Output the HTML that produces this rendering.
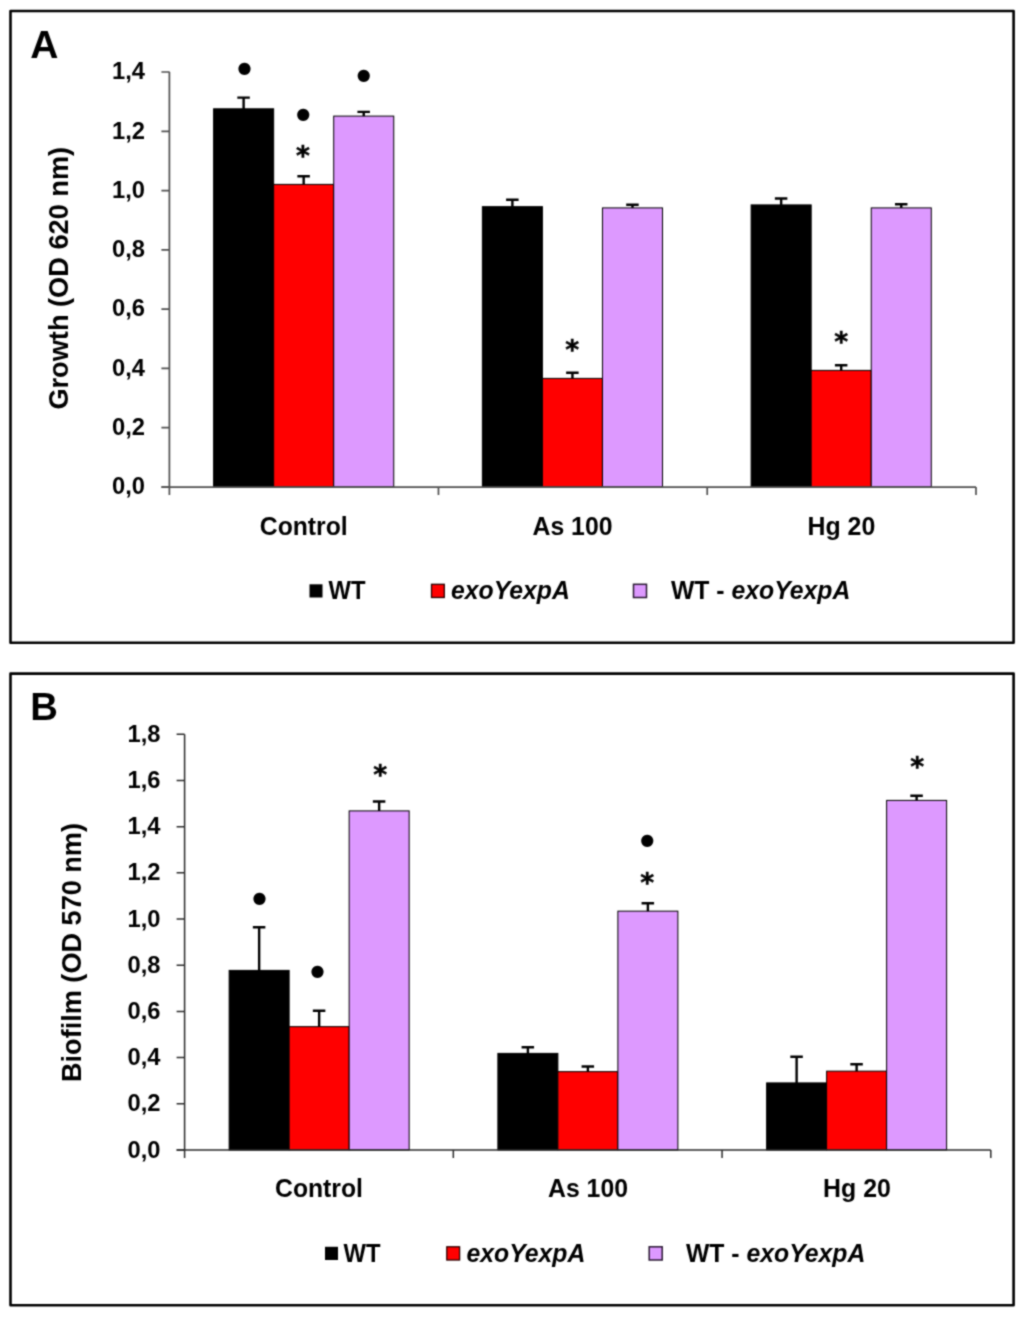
<!DOCTYPE html>
<html lang="en">
<head>
<meta charset="utf-8">
<title>Growth and biofilm formation</title>
<style>
html,body{margin:0;padding:0;background:#fff;}
body{width:1024px;height:1319px;overflow:hidden;}
svg{display:block;position:absolute;left:0;top:0;}
svg text{font-family:"Liberation Sans",sans-serif;font-weight:bold;fill:#000;}
svg text.dot{font-family:"DejaVu Sans",sans-serif;font-weight:normal;font-size:16px;text-anchor:middle;dominant-baseline:central;}
svg text.star{font-family:"DejaVu Sans",sans-serif;font-weight:bold;font-size:26.5px;text-anchor:middle;stroke:#000;stroke-width:0.5px;}
</style>
</head>
<body>
<svg width="1024" height="1319" viewBox="0 0 1024 1319">
<defs><filter id="soft" x="0" y="0" width="1024" height="1319" filterUnits="userSpaceOnUse" color-interpolation-filters="sRGB"><feConvolveMatrix order="3" kernelMatrix="1 2 1 2 8 2 1 2 1" divisor="20" edgeMode="duplicate" preserveAlpha="false"/></filter></defs>
<g filter="url(#soft)">
<rect x="0" y="0" width="1024" height="1319" fill="#fff"/>
<rect x="10.5" y="11" width="1003.1" height="631.8" fill="#fff" stroke="#000" stroke-width="2.6" stroke-linejoin="round"/>
<rect x="10.5" y="673.6" width="1003.1" height="631.7" fill="#fff" stroke="#000" stroke-width="2.6" stroke-linejoin="round"/>
<text x="30.2" y="58" font-size="39">A</text>
<text x="30.3" y="720" font-size="38.3">B</text>
<path d="M243.62 109.80V97.65M237.32 97.65H249.82" stroke="#000" stroke-width="2.4" fill="none"/>
<rect x="213.60" y="108.80" width="60.05" height="378.20" fill="#000000" stroke="#000" stroke-width="1"/>
<path d="M303.67 185.40V176.25M297.37 176.25H309.87" stroke="#000" stroke-width="2.4" fill="none"/>
<rect x="273.65" y="184.40" width="60.05" height="302.60" fill="#FF0000" stroke="#000" stroke-width="1"/>
<path d="M363.72 117.10V111.85M357.42 111.85H369.92" stroke="#000" stroke-width="2.4" fill="none"/>
<rect x="333.70" y="116.10" width="60.05" height="370.90" fill="#DD99FF" stroke="#000" stroke-width="1"/>
<path d="M512.39 207.65V199.75M506.09 199.75H518.59" stroke="#000" stroke-width="2.4" fill="none"/>
<rect x="482.37" y="206.65" width="60.05" height="280.35" fill="#000000" stroke="#000" stroke-width="1"/>
<path d="M572.44 379.40V372.75M566.14 372.75H578.64" stroke="#000" stroke-width="2.4" fill="none"/>
<rect x="542.42" y="378.40" width="60.05" height="108.60" fill="#FF0000" stroke="#000" stroke-width="1"/>
<path d="M632.49 208.90V204.75M626.19 204.75H638.69" stroke="#000" stroke-width="2.4" fill="none"/>
<rect x="602.47" y="207.90" width="60.05" height="279.10" fill="#DD99FF" stroke="#000" stroke-width="1"/>
<path d="M781.16 205.90V198.50M774.86 198.50H787.36" stroke="#000" stroke-width="2.4" fill="none"/>
<rect x="751.13" y="204.90" width="60.05" height="282.10" fill="#000000" stroke="#000" stroke-width="1"/>
<path d="M841.21 371.40V365.25M834.91 365.25H847.41" stroke="#000" stroke-width="2.4" fill="none"/>
<rect x="811.18" y="370.40" width="60.05" height="116.60" fill="#FF0000" stroke="#000" stroke-width="1"/>
<path d="M901.26 208.90V204.25M894.96 204.25H907.46" stroke="#000" stroke-width="2.4" fill="none"/>
<rect x="871.23" y="207.90" width="60.05" height="279.10" fill="#DD99FF" stroke="#000" stroke-width="1"/>
<path d="M169.39999999999998 72.0V495M161.39999999999998 487.2H976" stroke="#505050" stroke-width="1.7" fill="none"/>
<path d="M161.39999999999998 487.00H169.7M161.39999999999998 427.71H169.7M161.39999999999998 368.43H169.7M161.39999999999998 309.14H169.7M161.39999999999998 249.86H169.7M161.39999999999998 190.57H169.7M161.39999999999998 131.29H169.7M161.39999999999998 72.00H169.7M438.47 487V495M707.23 487V495M976.00 487V495" stroke="#505050" stroke-width="1.7" fill="none"/>
<text x="145.0" y="494.3" font-size="24" text-anchor="end" textLength="33" lengthAdjust="spacingAndGlyphs">0,0</text>
<text x="145.0" y="435.01" font-size="24" text-anchor="end" textLength="33" lengthAdjust="spacingAndGlyphs">0,2</text>
<text x="145.0" y="375.73" font-size="24" text-anchor="end" textLength="33" lengthAdjust="spacingAndGlyphs">0,4</text>
<text x="145.0" y="316.44" font-size="24" text-anchor="end" textLength="33" lengthAdjust="spacingAndGlyphs">0,6</text>
<text x="145.0" y="257.16" font-size="24" text-anchor="end" textLength="33" lengthAdjust="spacingAndGlyphs">0,8</text>
<text x="145.0" y="197.87" font-size="24" text-anchor="end" textLength="33" lengthAdjust="spacingAndGlyphs">1,0</text>
<text x="145.0" y="138.59" font-size="24" text-anchor="end" textLength="33" lengthAdjust="spacingAndGlyphs">1,2</text>
<text x="145.0" y="79.3" font-size="24" text-anchor="end" textLength="33" lengthAdjust="spacingAndGlyphs">1,4</text>
<text x="303.75" y="534.7" font-size="26" text-anchor="middle" textLength="88" lengthAdjust="spacingAndGlyphs">Control</text>
<text x="572.5" y="534.7" font-size="26" text-anchor="middle" textLength="80" lengthAdjust="spacingAndGlyphs">As 100</text>
<text x="841.4" y="534.7" font-size="26" text-anchor="middle" textLength="67.8" lengthAdjust="spacingAndGlyphs">Hg 20</text>
<rect x="309.5" y="584.3" width="13" height="13.2" fill="#000"/>
<rect x="431.5" y="584.3" width="12.8" height="13.2" fill="#FF0000" stroke="#2a0000" stroke-width="1.3"/>
<rect x="633.5" y="584.3" width="13" height="13.2" fill="#DD99FF" stroke="#2a1a33" stroke-width="1.5"/>
<text x="328.5" y="599.2" font-size="25.3" textLength="37" lengthAdjust="spacingAndGlyphs">WT</text>
<text x="451" y="599.2" font-size="25" font-style="italic" textLength="118.8" lengthAdjust="spacingAndGlyphs">exoYexpA</text>
<text x="671" y="599.2" font-size="25" textLength="179.3" lengthAdjust="spacingAndGlyphs">WT - <tspan font-style="italic">exoYexpA</tspan></text>
<text transform="translate(68.4 409.6) rotate(-90)" font-size="28.4" textLength="262.7" lengthAdjust="spacingAndGlyphs">Growth (OD 620 nm)</text>
<text x="244.6" y="67.1" class="dot">●</text>
<text x="303.3" y="113.3" class="dot">●</text>
<text x="363.8" y="74.7" class="dot">●</text>
<text x="302.9" y="164.5" class="star">*</text>
<text x="572.3" y="358.5" class="star">*</text>
<text x="841.2" y="350.8" class="star">*</text>
<path d="M259.15 971.40V927.25M252.85 927.25H265.35" stroke="#000" stroke-width="2.4" fill="none"/>
<rect x="229.15" y="970.40" width="60.00" height="179.60" fill="#000000" stroke="#000" stroke-width="1"/>
<path d="M319.15 1027.65V1010.75M312.85 1010.75H325.35" stroke="#000" stroke-width="2.4" fill="none"/>
<rect x="289.15" y="1026.65" width="60.00" height="123.35" fill="#FF0000" stroke="#000" stroke-width="1"/>
<path d="M379.15 811.90V801.50M372.85 801.50H385.35" stroke="#000" stroke-width="2.4" fill="none"/>
<rect x="349.15" y="810.90" width="60.00" height="339.10" fill="#DD99FF" stroke="#000" stroke-width="1"/>
<path d="M527.88 1054.40V1047.25M521.58 1047.25H534.08" stroke="#000" stroke-width="2.4" fill="none"/>
<rect x="497.88" y="1053.40" width="60.00" height="96.60" fill="#000000" stroke="#000" stroke-width="1"/>
<path d="M587.88 1072.65V1066.50M581.58 1066.50H594.08" stroke="#000" stroke-width="2.4" fill="none"/>
<rect x="557.88" y="1071.65" width="60.00" height="78.35" fill="#FF0000" stroke="#000" stroke-width="1"/>
<path d="M647.88 912.15V903.25M641.58 903.25H654.08" stroke="#000" stroke-width="2.4" fill="none"/>
<rect x="617.88" y="911.15" width="60.00" height="238.85" fill="#DD99FF" stroke="#000" stroke-width="1"/>
<path d="M796.62 1083.90V1056.75M790.32 1056.75H802.82" stroke="#000" stroke-width="2.4" fill="none"/>
<rect x="766.62" y="1082.90" width="60.00" height="67.10" fill="#000000" stroke="#000" stroke-width="1"/>
<path d="M856.62 1072.15V1064.25M850.32 1064.25H862.82" stroke="#000" stroke-width="2.4" fill="none"/>
<rect x="826.62" y="1071.15" width="60.00" height="78.85" fill="#FF0000" stroke="#000" stroke-width="1"/>
<path d="M916.62 801.40V795.75M910.32 795.75H922.82" stroke="#000" stroke-width="2.4" fill="none"/>
<rect x="886.62" y="800.40" width="60.00" height="349.60" fill="#DD99FF" stroke="#000" stroke-width="1"/>
<path d="M184.6 734.25V1158M176.6 1150H990.8" stroke="#2c2c2c" stroke-width="1.5" fill="none"/>
<path d="M176.6 1150.00H184.6M176.6 1103.81H184.6M176.6 1057.61H184.6M176.6 1011.42H184.6M176.6 965.22H184.6M176.6 919.03H184.6M176.6 872.83H184.6M176.6 826.64H184.6M176.6 780.44H184.6M176.6 734.25H184.6M453.33 1150V1158M722.07 1150V1158M990.80 1150V1158" stroke="#2c2c2c" stroke-width="1.5" fill="none"/>
<text x="160.5" y="1157.6" font-size="24" text-anchor="end" textLength="33" lengthAdjust="spacingAndGlyphs">0,0</text>
<text x="160.5" y="1111.41" font-size="24" text-anchor="end" textLength="33" lengthAdjust="spacingAndGlyphs">0,2</text>
<text x="160.5" y="1065.21" font-size="24" text-anchor="end" textLength="33" lengthAdjust="spacingAndGlyphs">0,4</text>
<text x="160.5" y="1019.02" font-size="24" text-anchor="end" textLength="33" lengthAdjust="spacingAndGlyphs">0,6</text>
<text x="160.5" y="972.82" font-size="24" text-anchor="end" textLength="33" lengthAdjust="spacingAndGlyphs">0,8</text>
<text x="160.5" y="926.63" font-size="24" text-anchor="end" textLength="33" lengthAdjust="spacingAndGlyphs">1,0</text>
<text x="160.5" y="880.43" font-size="24" text-anchor="end" textLength="33" lengthAdjust="spacingAndGlyphs">1,2</text>
<text x="160.5" y="834.24" font-size="24" text-anchor="end" textLength="33" lengthAdjust="spacingAndGlyphs">1,4</text>
<text x="160.5" y="788.04" font-size="24" text-anchor="end" textLength="33" lengthAdjust="spacingAndGlyphs">1,6</text>
<text x="160.5" y="741.85" font-size="24" text-anchor="end" textLength="33" lengthAdjust="spacingAndGlyphs">1,8</text>
<text x="319" y="1197.2" font-size="26" text-anchor="middle" textLength="88" lengthAdjust="spacingAndGlyphs">Control</text>
<text x="588" y="1197.2" font-size="26" text-anchor="middle" textLength="80" lengthAdjust="spacingAndGlyphs">As 100</text>
<text x="857" y="1197.2" font-size="26" text-anchor="middle" textLength="67.8" lengthAdjust="spacingAndGlyphs">Hg 20</text>
<rect x="325" y="1246.8" width="13" height="13.2" fill="#000"/>
<rect x="446.8" y="1246.8" width="12.8" height="13.2" fill="#FF0000" stroke="#2a0000" stroke-width="1.3"/>
<rect x="649.2" y="1246.8" width="13" height="13.2" fill="#DD99FF" stroke="#2a1a33" stroke-width="1.5"/>
<text x="343.5" y="1261.7" font-size="25.3" textLength="37" lengthAdjust="spacingAndGlyphs">WT</text>
<text x="466.5" y="1261.7" font-size="25" font-style="italic" textLength="118.8" lengthAdjust="spacingAndGlyphs">exoYexpA</text>
<text x="686" y="1261.7" font-size="25" textLength="179.3" lengthAdjust="spacingAndGlyphs">WT - <tspan font-style="italic">exoYexpA</tspan></text>
<text transform="translate(81.3 1082) rotate(-90)" font-size="28.4" textLength="259" lengthAdjust="spacingAndGlyphs">Biofilm (OD 570 nm)</text>
<text x="259.5" y="897.1" class="dot">●</text>
<text x="317.6" y="970.7" class="dot">●</text>
<text x="647.2" y="839.8" class="dot">●</text>
<text x="380.1" y="784.0" class="star">*</text>
<text x="647.2" y="891.7" class="star">*</text>
<text x="917.2" y="775.8" class="star">*</text>
</g>
</svg>
</body>
</html>
